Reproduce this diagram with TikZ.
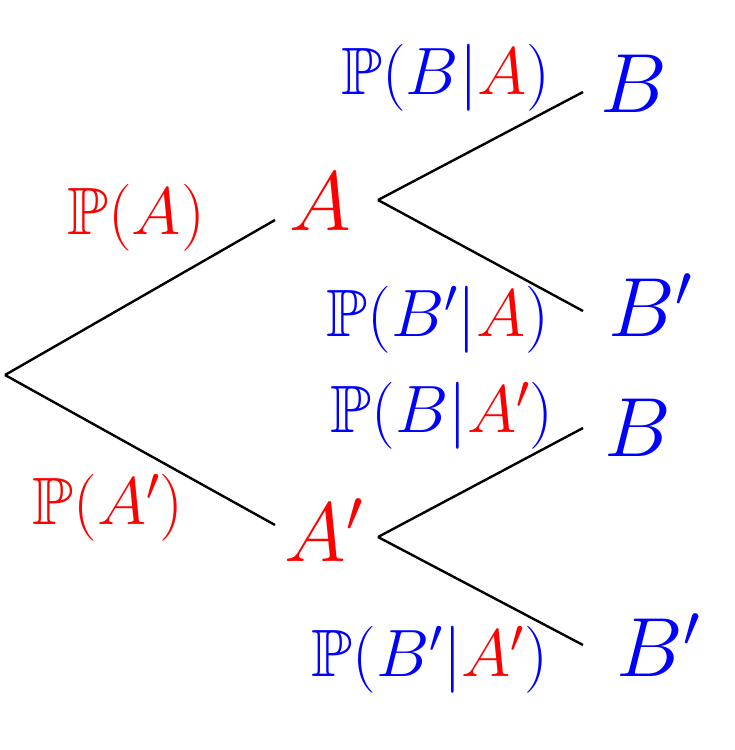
\RequirePackage{fix-cm}
\documentclass[tikz,border=0pt]{standalone}
\usepackage{amssymb}
\begin{document}
\begin{tikzpicture}[x=1pt,y=-1pt,
  edge/.style={line width=2.4pt,black},
  big/.style={inner sep=0pt,font=\fontsize{84}{90}\selectfont},
  prob/.style={inner sep=0pt,font=\fontsize{67}{70}\selectfont}]
\useasboundingbox (0,0) rectangle (735,750);
% branch points
\coordinate (root) at (5,375);
\coordinate (Ain) at (275,220);
\coordinate (A'in) at (275,525);
\coordinate (Aout) at (378,200);
\coordinate (A'out) at (378,537);
\coordinate (B1in) at (583,92);
\coordinate (B2in) at (583,311);
\coordinate (B3in) at (583,428);
\coordinate (B4in) at (583,645);
% connectors
\draw[edge] (root) -- (Ain);
\draw[edge] (root) -- (A'in);
\draw[edge] (Aout) -- (B1in);
\draw[edge] (Aout) -- (B2in);
\draw[edge] (A'out) -- (B3in);
\draw[edge] (A'out) -- (B4in);
% outcomes
\node[big,red] (A) at (320,202) {$A$};
\node[big,red] (A') at (324,530) {$A'$};
\node[big,blue] (B1) at (634,84) {$B$};
\node[big,blue] (B2) at (650,305) {$B'$};
\node[big,blue] (B3) at (638,428) {$B$};
\node[big,blue] (B4) at (658,645) {$B'$};
% probabilities
\node[prob,red] (pA) at (136,218) {$\mathbb{P}(A)$};
\node[prob,red] (pA') at (108,508) {$\mathbb{P}(A')$};
\node[prob,blue] (pBA) at (446,78) {$\mathbb{P}(B|\textcolor{red}{A})$};
\node[prob,blue] (pB'A) at (438,320) {$\mathbb{P}(B'|\textcolor{red}{A})$};
\node[prob,blue] (pBA') at (442,416) {$\mathbb{P}(B|\textcolor{red}{A'})$};
\node[prob,blue] (pB'A') at (430,660) {$\mathbb{P}(B'|\textcolor{red}{A'})$};
\end{tikzpicture}
\end{document}
